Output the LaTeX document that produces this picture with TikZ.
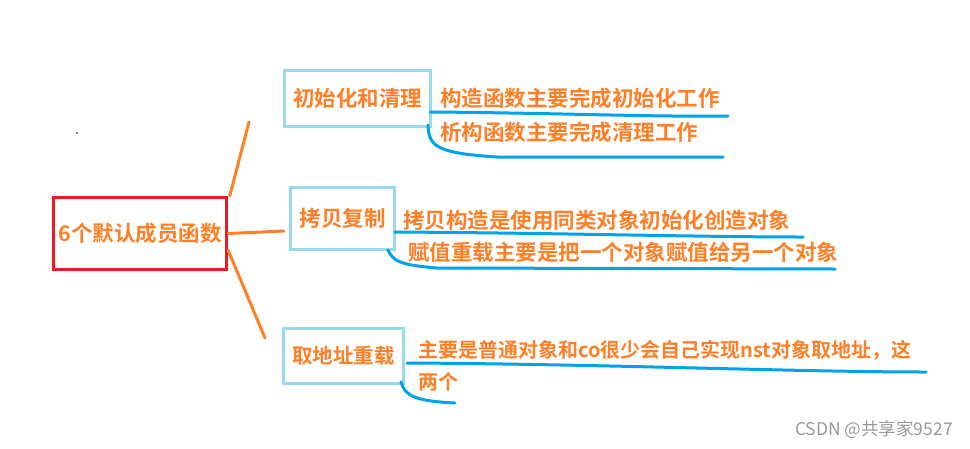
\documentclass[tikz,border=0pt]{standalone}
\usepackage{fontspec}
\newfontfamily\cjk{Noto Sans CJK SC}[BoldFont={Noto Sans CJK SC Bold}]
\usetikzlibrary{positioning,calc}
\definecolor{paintorange}{HTML}{FF7F27}
\definecolor{paintred}{HTML}{ED1C24}
\definecolor{paintblue}{HTML}{00A2E8}
\definecolor{paintsky}{HTML}{99D9EA}

\begin{document}
\begin{tikzpicture}[x=1pt, y=-1pt,
    txt/.style={font=\cjk\bfseries\fontsize{21.5}{24}\selectfont, text=paintorange, inner sep=0pt},
    smalltxt/.style={txt, font=\cjk\bfseries\fontsize{20.5}{23}\selectfont},
    notetxt/.style={txt, font=\cjk\bfseries\fontsize{20}{23}\selectfont},
    topic/.style={draw=paintsky, line width=3pt, inner sep=0pt},
    branch/.style={draw=paintorange, line width=3pt, line cap=round},
    pen/.style={draw=paintblue, line width=3pt, line cap=round, line join=round}]
    \useasboundingbox (0,0) rectangle (970,448);

    % Root box
    \node[txt, draw=paintred, line width=3.5pt, minimum width=173pt, minimum height=72pt]
      (six) at (140,233.5) {6个默认成员函数};

    % Topic boxes
    \node[txt, topic, minimum width=146pt, minimum height=56pt] (init) at (357.5,98.5) {初始化和清理};
    \node[txt, topic, minimum width=104pt, minimum height=62pt] (copy) at (342.5,218.5) {拷贝复制};
    \node[smalltxt, topic, minimum width=120pt, minimum height=55pt] (addr) at (343.5,356) {取地址重载};

    % Branches (free ends)
    \coordinate (up)  at (249,122);
    \coordinate (mid) at (284,231);
    \coordinate (low) at (265,338);
    \draw[branch] ([xshift=1.5pt]six.north east) -- (up);
    \draw[branch] (six.east) -- (mid);
    \draw[branch] ([yshift=-17pt]six.east) -- (low);

    % Notes beside each topic
    \node[txt, anchor=west] (ctor) at (440,98)  {构造函数主要完成初始化工作};
    \node[txt, anchor=west] (dtor) at (440,132) {析构函数主要完成清理工作};
    \node[txt, anchor=west] (cpy)  at (403,220) {拷贝构造是使用同类对象初始化创造对象};
    \node[txt, anchor=west] (asg)  at (408,252) {赋值重载主要是把一个对象赋值给另一个对象};
    \node[notetxt, anchor=west] (adr1) at (418,350) {主要是普通对象和co很少会自己实现nst对象取地址，这};
    \node[notetxt, anchor=west] (adr2) at (418,382) {两个};

    % Hand-drawn underlines
    \draw[pen] (430,112) .. controls (560,113) and (650,117) .. (728,116);
    \draw[pen] (428,125) .. controls (429,146) and (435,153) .. (497,157) -- (723,157);
    \draw[pen] (395,232) .. controls (560,233) and (700,237) .. (803,237);
    \draw[pen] (388,250) .. controls (393,261) and (400,265) .. (437,268) -- (835,269);
    \draw[pen] (407,363) .. controls (600,364) and (800,372) .. (926,372);
    \draw[pen] (401,382) .. controls (405,396) and (415,401) .. (455,403);

    % Stray dot and watermark
    \fill (77,133) circle (0.8);
    \node[font=\cjk\fontsize{17.5}{20}\selectfont, text=black!40, inner sep=0pt] (mark) at (874,430) {CSDN @共享家9527};
\end{tikzpicture}
\end{document}
